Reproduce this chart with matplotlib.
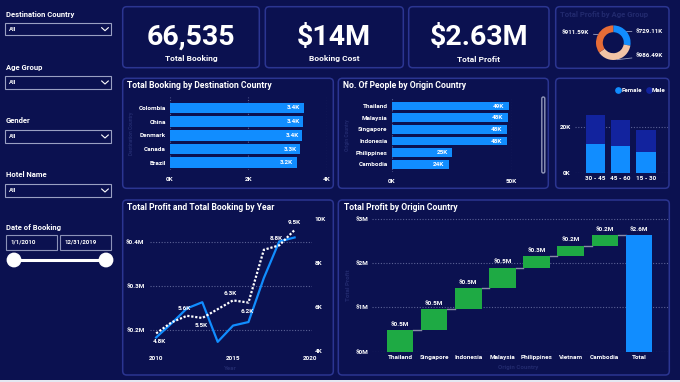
import numpy as np
import matplotlib
matplotlib.use("Agg")
import matplotlib.pyplot as plt
from matplotlib.patches import FancyBboxPatch, Rectangle, Circle
from matplotlib.lines import Line2D
from matplotlib.ticker import FuncFormatter

# --- data ---
kpi_values = ["66,535", "$14M", "$2.63M"]
kpi_labels = ["Total Booking", "Booking Cost", "Total Profit"]

dest_countries = ["Colombia", "China", "Denmark", "Canada", "Brazil"]
dest_bookings = [3420, 3400, 3380, 3330, 3240]

origin_countries = ["Thailand", "Malaysia", "Singapore", "Indonesia", "Philippines", "Cambodia"]
origin_people = [49000, 48400, 48200, 47900, 25300, 23800]

age_groups = ["30 - 45", "45 - 60", "15 - 30"]
female = [12600, 11500, 9000]
male = [12400, 11600, 9400]

donut_values = [729.11, 986.49, 911.59]  # $K
donut_colors = ["#118DFF", "#F2C4A6", "#E66C37"]

years = [2010, 2011, 2012, 2013, 2014, 2015, 2016, 2017, 2018, 2019]
profit_year = [0.183, 0.215, 0.249, 0.263, 0.173, 0.210, 0.218, 0.318, 0.401, 0.410]  # $M
booking_year = [4.8, 5.3, 5.6, 5.5, 5.9, 6.3, 6.2, 8.6, 8.8, 9.5]  # K

wf_countries = ["Thailand", "Singapore", "Indonesia", "Malaysia", "Philippines", "Vietnam", "Cambodia"]
wf_profit = [0.48, 0.48, 0.47, 0.47, 0.26, 0.24, 0.23]  # $M

# --- style ---
W, H = 680, 382
BG = "#0b1150"
BORDER = "#2b3591"
BLUE = "#118DFF"
DARKBLUE = "#12239E"
GREEN = "#1EAA44"
GRID = "#5b6296"
FAINT = "#222a6e"
TICK = 4.6
TITLE = 6.2

plt.rcParams["font.family"] = ["Roboto", "DejaVu Sans"]
plt.rcParams["font.weight"] = "bold"
plt.rcParams["text.parse_math"] = False

fig = plt.figure(figsize=(6.8, 3.82), dpi=100, facecolor=BG)
bg = fig.add_axes([0, 0, 1, 1])
bg.set_xlim(0, W)
bg.set_ylim(H, 0)
bg.axis("off")


def card(x0, y0, x1, y1):
    bg.add_patch(FancyBboxPatch((x0, y0), x1 - x0, y1 - y0,
                                boxstyle="round,pad=0,rounding_size=4",
                                fc=BG, ec=BORDER, lw=1.1))


def chart_ax(x0, y0, x1, y1):
    ax = fig.add_axes([x0 / W, 1 - y1 / H, (x1 - x0) / W, (y1 - y0) / H], facecolor="none")
    for s in ax.spines.values():
        s.set_visible(False)
    ax.tick_params(length=0, colors="white", labelsize=TICK)
    return ax


# --- sidebar slicers ---
slicers = [("Destination Country", 14.3, 22.7), ("Age Group", 67.7, 76),
           ("Gender", 120.7, 130), ("Hotel Name", 174.7, 184)]
for name, ty, by in slicers:
    bg.text(6, ty, name, color="white", fontsize=5.5, va="center")
    bg.add_patch(Rectangle((4.7, by), 106, 12.7, fc="none", ec="#9aa0c2", lw=0.8))
    bg.text(8.5, by + 6.6, "All", color="white", fontsize=4.4, va="center")
    bg.plot([101.7, 105, 108.3], [by + 5, by + 8, by + 5], color="white", lw=0.8)

bg.text(6, 227.3, "Date of Booking", color="white", fontsize=5.5, va="center")
for x0, s in [(6, "1/1/2010"), (60, "12/31/2019")]:
    bg.add_patch(Rectangle((x0, 235), 51, 15, fc="none", ec="#8c92b8", lw=0.8))
    bg.text(x0 + 5, 242.5, s, color="white", fontsize=4.4, va="center")
bg.plot([14, 106], [260, 260], color="white", lw=2.2)
bg.add_patch(Circle((14, 260), 6.7, color="white"))
bg.add_patch(Circle((106, 260), 6.7, color="white"))

# light strip at the very bottom
bg.add_patch(Rectangle((0, 379.5), W, 3, fc="#e4e8f2", ec="none"))

# --- KPI cards ---
kpi_boxes = [(122.7, 259.3), (265.3, 403.3), (408.7, 549)]
for (x0, x1), val, lab in zip(kpi_boxes, kpi_values, kpi_labels):
    card(x0, 6.7, x1, 67.7)
    cx = (x0 + x1) / 2
    bg.text(cx, 37, val, color="white", fontsize=20.5, ha="center", va="center")
    bg.text(cx, 59, lab, color="white", fontsize=6, ha="center", va="center")

# --- donut: total profit by age group ---
card(555.7, 6.7, 669, 68.3)
bg.text(560, 14, "Total Profit by Age Group", color=FAINT, fontsize=5.6, va="center")
axd = fig.add_axes([593.3 / W, 1 - 62.7 / H, 40 / W, 40 / H])
axd.axis("off")
wedges, _ = axd.pie(donut_values, colors=donut_colors, startangle=90, counterclock=False,
                    radius=0.865, wedgeprops=dict(width=0.34, edgecolor="none"))
axd.set_xlim(-1, 1)
axd.set_ylim(-1, 1)
label_pos = [(1.14, 0.58, "left"), (1.14, -0.66, "left"), (-1.2, 0.49, "right")]
for w, v, (lx, ly, ha) in zip(wedges, donut_values, label_pos):
    ang = np.deg2rad((w.theta1 + w.theta2) / 2)
    axd.annotate(f"${v:.2f}K", xy=(0.87 * np.cos(ang), 0.87 * np.sin(ang)), xytext=(lx, ly),
                 color="white", fontsize=4.5, ha=ha, va="center", annotation_clip=False,
                 arrowprops=dict(arrowstyle="-", color="#9aa0c2", lw=0.6, shrinkA=1, shrinkB=0))

# --- total booking by destination country ---
card(122.7, 78.3, 333.3, 188.3)
bg.text(127.3, 86, "Total Booking by Destination Country", color="white", fontsize=TITLE, va="center")
bg.text(131, 133, "Destination Country", color=FAINT, fontsize=3.5, rotation=90, ha="center", va="center")
ax1 = chart_ax(170, 97, 326.7, 170)
y1 = np.arange(len(dest_countries))
vals1 = np.array(dest_bookings) / 1000
ax1.barh(y1, vals1, height=0.79, color=BLUE, zorder=2)
ax1.set_xlim(0, 4)
ax1.set_ylim(len(dest_countries) - 0.47, -0.8)
ax1.set_yticks(y1, dest_countries)
ax1.set_xticks([0, 2, 4], ["0K", "2K", "4K"])
ax1.tick_params(axis="y", pad=3)
ax1.tick_params(axis="x", pad=5)
ax1.grid(axis="x", color=GRID, ls=(0, (1, 1.5)), lw=0.8)
for i, v in enumerate(vals1):
    ax1.text(v - 0.09, i, f"{v:.1f}K", color="white", fontsize=TICK, ha="right", va="center", zorder=3)

# --- no. of people by origin country ---
card(338.3, 78.3, 548.3, 188.3)
bg.text(343.3, 86, "No. Of People by Origin Country", color="white", fontsize=TITLE, va="center")
bg.text(348, 135, "Origin Country", color=FAINT, fontsize=3.5, rotation=90, ha="center", va="center")
ax2 = chart_ax(391.7, 96.7, 511.7, 171.7)
y2 = np.arange(len(origin_countries))
vals2 = np.array(origin_people) / 1000
ax2.barh(y2, vals2, height=0.75, color=BLUE, zorder=2)
ax2.set_xlim(0, 50)
ax2.set_ylim(len(origin_countries) - 0.37, -0.8)
ax2.set_yticks(y2, origin_countries)
ax2.set_xticks([0, 50], ["0K", "50K"])
ax2.tick_params(axis="y", pad=3)
ax2.tick_params(axis="x", pad=5)
ax2.grid(axis="x", color=GRID, ls=(0, (1, 1.5)), lw=0.8)
for i, v in enumerate(vals2):
    ax2.text(v - 2, i, f"{v:.0f}K", color="white", fontsize=TICK, ha="right", va="center", zorder=3)
bg.add_patch(FancyBboxPatch((541.8, 97), 3, 76, boxstyle="round,pad=0,rounding_size=1.5",
                            fc="none", ec="#9096b8", lw=1))

# --- gender by age group (stacked columns) ---
card(555.7, 78.3, 669, 188.3)
ax3 = chart_ax(575, 98, 668, 172.7)
x3 = np.arange(len(age_groups))
f3 = np.array(female) / 1000
m3 = np.array(male) / 1000
ax3.bar(x3, f3, width=0.77, color=BLUE, zorder=2)
ax3.bar(x3, m3, width=0.77, bottom=f3, color=DARKBLUE, zorder=2)
ax3.set_xlim(-0.81, 2.87)
ax3.set_ylim(0, 32.5)
ax3.set_xticks(x3, age_groups)
ax3.set_yticks([0, 20], ["0K", "20K"])
ax3.tick_params(axis="y", pad=3)
ax3.tick_params(axis="x", pad=2.5)
ax3.grid(axis="y", color=GRID, ls=(0, (1, 1.5)), lw=0.8)
ax3.set_axisbelow(True)
handles = [Line2D([], [], marker="o", ls="", color=BLUE, markersize=3.8),
           Line2D([], [], marker="o", ls="", color=DARKBLUE, markersize=3.8)]
leg = ax3.legend(handles, ["Female", "Male"], loc="center right", bbox_to_anchor=(1.0, 1.1),
                 ncol=2, frameon=False, fontsize=4.5, handletextpad=0.05, columnspacing=0.6,
                 handlelength=0.9, borderaxespad=0)
for t in leg.get_texts():
    t.set_color("white")

# --- total profit and total booking by year ---
card(122.7, 200, 333.3, 375)
bg.text(127.3, 207.7, "Total Profit and Total Booking by Year", color="white", fontsize=TITLE, va="center")
bg.text(230, 368, "Year", color=FAINT, fontsize=4.4, ha="center", va="center")
ax4 = chart_ax(150, 215, 312, 352)
ax4.plot(years, profit_year, color=BLUE, lw=1.6, zorder=3)
ax4.set_xlim(2009.6, 2020.13)
ax4.set_ylim(0.15, 0.461)
ax4.set_yticks([0.2, 0.3, 0.4])
ax4.yaxis.set_major_formatter(FuncFormatter(lambda v, p: f"${v:.1f}M"))
ax4.set_xticks([2010, 2015, 2020])
ax4.tick_params(axis="y", pad=4)
ax4.tick_params(axis="x", pad=3)
ax4.grid(axis="y", color=GRID, ls=(0, (1, 1.5)), lw=0.8)
ax4r = ax4.twinx()
for s in ax4r.spines.values():
    s.set_visible(False)
ax4r.tick_params(length=0, colors="white", labelsize=TICK, pad=2)
ax4r.plot(years, booking_year, color="white", lw=1.6, ls=(0, (1, 0.8)), zorder=4)
ax4r.set_ylim(3.954, 10.18)
ax4r.set_yticks([4, 6, 8, 10], ["4K", "6K", "8K", "10K"])
booking_label_offsets = {2010: (3, -8), 2012: (-3, 7), 2013: (-1, -8), 2015: (-3, 7),
                         2016: (-1, -9), 2018: (-3, 7), 2019: (0, 7)}
for yr, b in zip(years, booking_year):
    if yr in booking_label_offsets:
        ax4r.annotate(f"{b:.1f}K", (yr, b), xytext=booking_label_offsets[yr],
                      textcoords="offset pixels", color="white", fontsize=TICK,
                      ha="center", va="center", zorder=5)

# --- waterfall: total profit by origin country ---
card(338.3, 200, 669.3, 375)
bg.text(344.3, 207.7, "Total Profit by Origin Country", color="white", fontsize=TITLE, va="center")
bg.text(348, 285, "Total Profit", color=FAINT, fontsize=4.4, rotation=90, ha="center", va="center")
bg.text(518, 368, "Origin Country", color=FAINT, fontsize=4.4, ha="center", va="center")
ax5 = chart_ax(372, 215, 668, 351.7)
ends = np.cumsum(wf_profit)
starts = ends - np.array(wf_profit)
xw = np.arange(len(wf_countries))
ax5.bar(xw, wf_profit, bottom=starts, width=0.78, color=GREEN, zorder=2)
total = ends[-1]
ax5.bar(len(wf_countries), total, width=0.78, color=BLUE, zorder=2)
for i in range(len(wf_countries)):
    ax5.plot([i + 0.39, i + 0.61], [ends[i], ends[i]], color="#8a8ca8", lw=1, zorder=1)
for i, v in enumerate(wf_profit):
    ax5.annotate(f"${v:.1f}M", (i, ends[i]), xytext=(0, 6), textcoords="offset pixels",
                 color="white", fontsize=TICK, ha="center", va="center")
ax5.annotate(f"${total:.1f}M", (len(wf_countries), total), xytext=(0, 6), textcoords="offset pixels",
             color="white", fontsize=TICK, ha="center", va="center")
ax5.set_xlim(-0.82, len(wf_countries) + 0.85)
ax5.set_ylim(0, 3.09)
ax5.set_xticks(np.arange(len(wf_countries) + 1), wf_countries + ["Total"])
ax5.set_yticks([0, 1, 2, 3], ["$0M", "$1M", "$2M", "$3M"])
ax5.tick_params(axis="y", pad=2.7)
ax5.tick_params(axis="x", pad=2.4)
ax5.grid(axis="y", color=GRID, ls=(0, (1, 1.5)), lw=0.8)
ax5.set_axisbelow(True)

fig.savefig("out.png", dpi=100, facecolor=BG)
